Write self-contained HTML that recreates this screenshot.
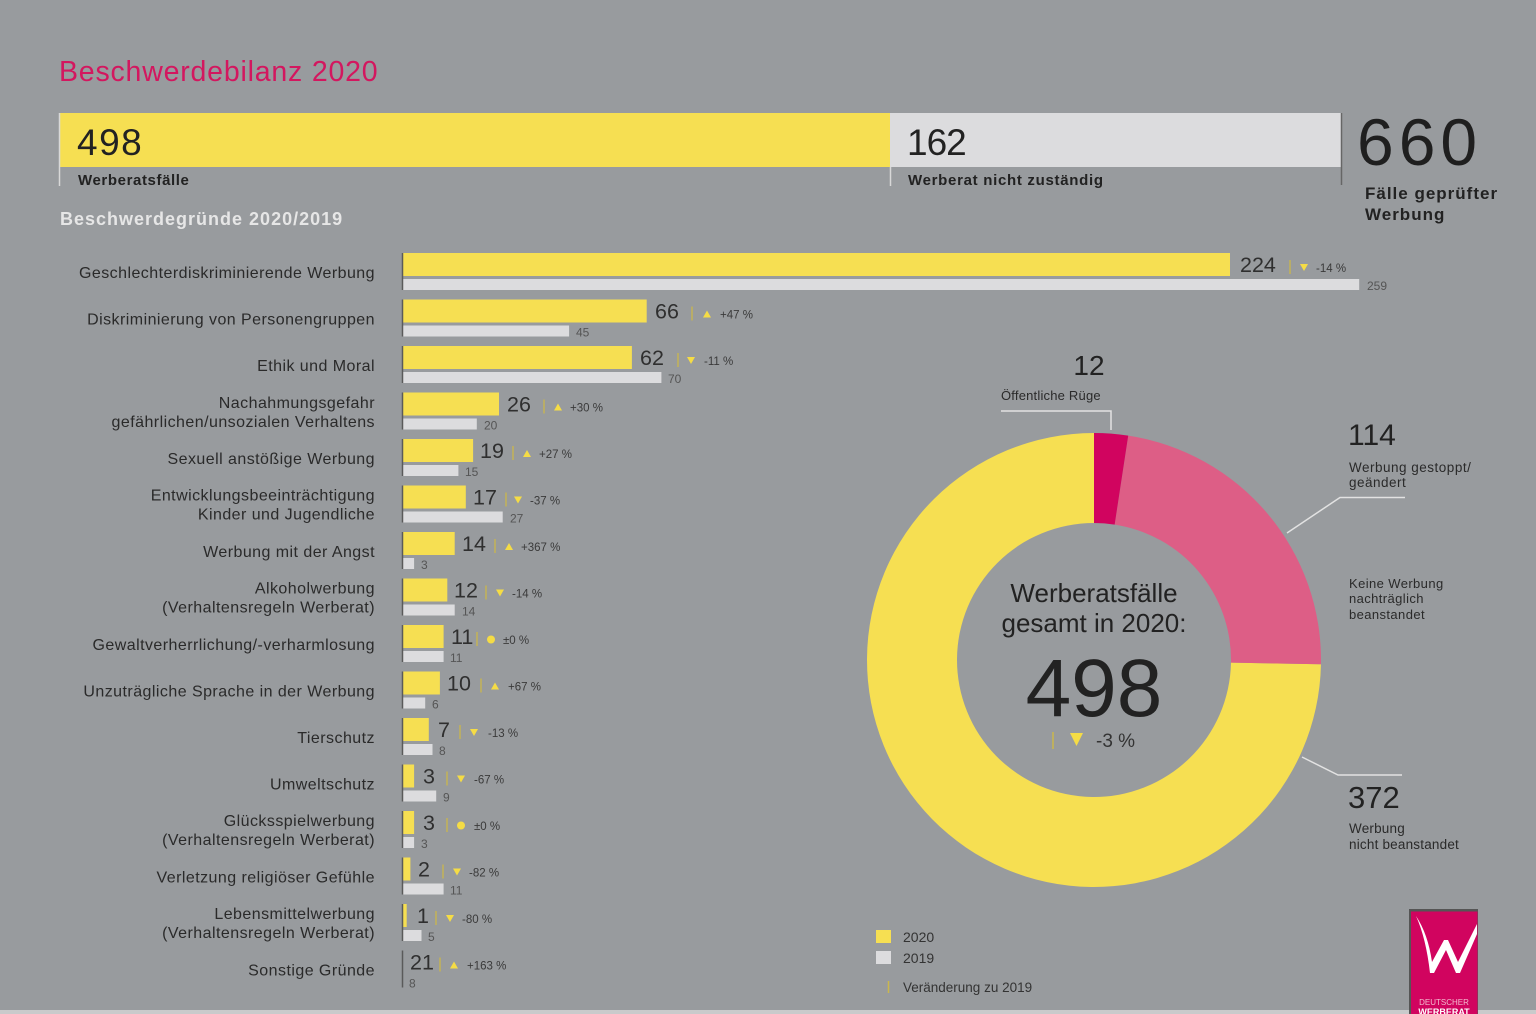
<!DOCTYPE html>
<html><head><meta charset="utf-8"><style>
html,body{margin:0;padding:0;background:#989b9e;}
svg{display:block;font-family:"Liberation Sans",Arial,sans-serif;}
</style></head><body>
<svg width="1536" height="1014" viewBox="0 0 1536 1014" xmlns="http://www.w3.org/2000/svg">
<rect x="0" y="0" width="1536" height="1014" fill="#989b9e"/>
<rect x="0" y="1010" width="1536" height="4" fill="#c9cacb"/>

<!-- Title -->
<text x="59" y="81" font-size="28.5" letter-spacing="0.8" fill="#d3175f">Beschwerdebilanz 2020</text>

<!-- Top summary bars -->
<rect x="59" y="113" width="831" height="54" fill="#f6df52"/>
<rect x="890" y="113" width="451" height="54" fill="#dcdcde"/>
<line x1="59.5" y1="113" x2="59.5" y2="186" stroke="#d8d8d8" stroke-width="1.5"/>
<line x1="890.5" y1="167" x2="890.5" y2="186" stroke="#d8d8d8" stroke-width="1.5"/>
<line x1="1341.5" y1="113" x2="1341.5" y2="185" stroke="#666" stroke-width="1.5"/>
<text x="77" y="155" font-size="37" letter-spacing="1.5" fill="#222">498</text>
<text x="78" y="185" font-size="15" font-weight="bold" letter-spacing="0.6" fill="#222">Werberatsfälle</text>
<text x="907" y="155" font-size="37" letter-spacing="-1" fill="#222">162</text>
<text x="908" y="185" font-size="15" font-weight="bold" letter-spacing="0.7" fill="#222">Werberat nicht zuständig</text>
<text x="1357" y="165" font-size="66" letter-spacing="5" fill="#1f1f1f">660</text>
<text x="1365" y="199" font-size="17" font-weight="bold" letter-spacing="1" fill="#222">Fälle geprüfter</text>
<text x="1365" y="220" font-size="17" font-weight="bold" letter-spacing="1" fill="#222">Werbung</text>

<text x="60" y="225" font-size="18" font-weight="bold" letter-spacing="1" fill="#e6e6e6">Beschwerdegründe 2020/2019</text>

<!-- Category labels -->
<g font-size="16" letter-spacing="0.45" fill="#2a2a2a" text-anchor="end">
<text x="375" y="278">Geschlechterdiskriminierende Werbung</text>
<text x="375" y="324.5">Diskriminierung von Personengruppen</text>
<text x="375" y="371">Ethik und Moral</text>
<text x="375" y="408">Nachahmungsgefahr</text>
<text x="375" y="427">gefährlichen/unsozialen Verhaltens</text>
<text x="375" y="464">Sexuell anstößige Werbung</text>
<text x="375" y="500.5">Entwicklungsbeeinträchtigung</text>
<text x="375" y="519.5">Kinder und Jugendliche</text>
<text x="375" y="557">Werbung mit der Angst</text>
<text x="375" y="593.5">Alkoholwerbung</text>
<text x="375" y="612.5">(Verhaltensregeln Werberat)</text>
<text x="375" y="650">Gewaltverherrlichung/-verharmlosung</text>
<text x="375" y="696.5">Unzuträgliche Sprache in der Werbung</text>
<text x="375" y="743">Tierschutz</text>
<text x="375" y="789.5">Umweltschutz</text>
<text x="375" y="826">Glücksspielwerbung</text>
<text x="375" y="845">(Verhaltensregeln Werberat)</text>
<text x="375" y="882.5">Verletzung religiöser Gefühle</text>
<text x="375" y="919">Lebensmittelwerbung</text>
<text x="375" y="938">(Verhaltensregeln Werberat)</text>
<text x="375" y="975.5">Sonstige Gründe</text>
</g>

<!-- Yellow bars (2020) -->
<g fill="#f6df52">
<rect x="403" y="253" width="827" height="23"/>
<rect x="403" y="299.5" width="243.7" height="23"/>
<rect x="403" y="346" width="228.9" height="23"/>
<rect x="403" y="392.5" width="96" height="23"/>
<rect x="403" y="439" width="70.1" height="23"/>
<rect x="403" y="485.5" width="62.8" height="23"/>
<rect x="403" y="532" width="51.7" height="23"/>
<rect x="403" y="578.5" width="44.3" height="23"/>
<rect x="403" y="625" width="40.6" height="23"/>
<rect x="403" y="671.5" width="36.9" height="23"/>
<rect x="403" y="718" width="25.8" height="23"/>
<rect x="403" y="764.5" width="11.1" height="23"/>
<rect x="403" y="811" width="11.1" height="23"/>
<rect x="403" y="857.5" width="7.4" height="23"/>
<rect x="403" y="904" width="3.7" height="23"/>
</g>
<!-- Grey bars (2019) -->
<g fill="#dcdcde">
<rect x="403" y="279" width="956.2" height="11"/>
<rect x="403" y="325.5" width="166.1" height="11"/>
<rect x="403" y="372" width="258.4" height="11"/>
<rect x="403" y="418.5" width="73.8" height="11"/>
<rect x="403" y="465" width="55.4" height="11"/>
<rect x="403" y="511.5" width="99.7" height="11"/>
<rect x="403" y="558" width="11.1" height="11"/>
<rect x="403" y="604.5" width="51.7" height="11"/>
<rect x="403" y="651" width="40.6" height="11"/>
<rect x="403" y="697.5" width="22.2" height="11"/>
<rect x="403" y="744" width="29.5" height="11"/>
<rect x="403" y="790.5" width="33.2" height="11"/>
<rect x="403" y="837" width="11.1" height="11"/>
<rect x="403" y="883.5" width="40.6" height="11"/>
<rect x="403" y="930" width="18.5" height="11"/>
</g>
<!-- axis lines per row -->
<g stroke="#5a5a5a" stroke-width="1.5">
<line x1="402.5" y1="253" x2="402.5" y2="290"/>
<line x1="402.5" y1="299.5" x2="402.5" y2="336.5"/>
<line x1="402.5" y1="346" x2="402.5" y2="383"/>
<line x1="402.5" y1="392.5" x2="402.5" y2="429.5"/>
<line x1="402.5" y1="439" x2="402.5" y2="476"/>
<line x1="402.5" y1="485.5" x2="402.5" y2="522.5"/>
<line x1="402.5" y1="532" x2="402.5" y2="569"/>
<line x1="402.5" y1="578.5" x2="402.5" y2="615.5"/>
<line x1="402.5" y1="625" x2="402.5" y2="662"/>
<line x1="402.5" y1="671.5" x2="402.5" y2="708.5"/>
<line x1="402.5" y1="718" x2="402.5" y2="755"/>
<line x1="402.5" y1="764.5" x2="402.5" y2="801.5"/>
<line x1="402.5" y1="811" x2="402.5" y2="848"/>
<line x1="402.5" y1="857.5" x2="402.5" y2="894.5"/>
<line x1="402.5" y1="904" x2="402.5" y2="941"/>
<line x1="402.5" y1="950.5" x2="402.5" y2="987.5"/>
</g>

<!-- 2020 values -->
<g font-size="21.5" fill="#2f2f2f">
<text x="1240" y="272">224</text>
<text x="655" y="318.5">66</text>
<text x="640" y="365">62</text>
<text x="507" y="411.5">26</text>
<text x="480" y="458">19</text>
<text x="473" y="504.5">17</text>
<text x="462" y="551">14</text>
<text x="454" y="597.5">12</text>
<text x="451" y="644">11</text>
<text x="447" y="690.5">10</text>
<text x="438" y="737">7</text>
<text x="423" y="783.5">3</text>
<text x="423" y="830">3</text>
<text x="418" y="876.5">2</text>
<text x="417" y="923">1</text>
<text x="410" y="969.5">21</text>
</g>
<!-- 2019 values -->
<g font-size="12" fill="#555">
<text x="1367" y="290">259</text>
<text x="576" y="336.5">45</text>
<text x="668" y="383">70</text>
<text x="484" y="429.5">20</text>
<text x="465" y="476">15</text>
<text x="510" y="522.5">27</text>
<text x="421" y="569">3</text>
<text x="462" y="615.5">14</text>
<text x="450" y="662">11</text>
<text x="432" y="708.5">6</text>
<text x="439" y="755">8</text>
<text x="443" y="801.5">9</text>
<text x="421" y="848">3</text>
<text x="450" y="894.5">11</text>
<text x="428" y="941">5</text>
<text x="409" y="987.5">8</text>
</g>
<!-- ticks -->
<g stroke="#cbb74c" stroke-width="1.3">
<line x1="1290" y1="260" x2="1290" y2="274"/>
<line x1="692" y1="306.5" x2="692" y2="320.5"/>
<line x1="678" y1="353" x2="678" y2="367"/>
<line x1="544" y1="399.5" x2="544" y2="413.5"/>
<line x1="513" y1="446" x2="513" y2="460"/>
<line x1="506" y1="492.5" x2="506" y2="506.5"/>
<line x1="495" y1="539" x2="495" y2="553"/>
<line x1="486" y1="585.5" x2="486" y2="599.5"/>
<line x1="477" y1="632" x2="477" y2="646"/>
<line x1="481" y1="678.5" x2="481" y2="692.5"/>
<line x1="460" y1="725" x2="460" y2="739"/>
<line x1="447" y1="771.5" x2="447" y2="785.5"/>
<line x1="447" y1="818" x2="447" y2="832"/>
<line x1="443" y1="864.5" x2="443" y2="878.5"/>
<line x1="436" y1="911" x2="436" y2="925"/>
<line x1="440" y1="957.5" x2="440" y2="971.5"/>
</g>
<!-- triangles / dots -->
<g fill="#f5dc45">
<polygon points="1300,264 1308,264 1304,271"/>
<polygon points="703,317.5 711,317.5 707,310.5"/>
<polygon points="687,357 695,357 691,364"/>
<polygon points="554,410.5 562,410.5 558,403.5"/>
<polygon points="523,457 531,457 527,450"/>
<polygon points="514,496.5 522,496.5 518,503.5"/>
<polygon points="505,550 513,550 509,543"/>
<polygon points="496,589.5 504,589.5 500,596.5"/>
<circle cx="491" cy="639.5" r="4"/>
<polygon points="491,689.5 499,689.5 495,682.5"/>
<polygon points="470,729 478,729 474,736"/>
<polygon points="457,775.5 465,775.5 461,782.5"/>
<circle cx="461" cy="825.5" r="4"/>
<polygon points="453,868.5 461,868.5 457,875.5"/>
<polygon points="446,915 454,915 450,922"/>
<polygon points="450,968.5 458,968.5 454,961.5"/>
</g>
<!-- percent changes -->
<g font-size="11.5" fill="#3a3a3a">
<text x="1316" y="272">-14 %</text>
<text x="720" y="318.5">+47 %</text>
<text x="704" y="365">-11 %</text>
<text x="570" y="411.5">+30 %</text>
<text x="539" y="458">+27 %</text>
<text x="530" y="504.5">-37 %</text>
<text x="521" y="551">+367 %</text>
<text x="512" y="597.5">-14 %</text>
<text x="503" y="644">±0 %</text>
<text x="508" y="690.5">+67 %</text>
<text x="488" y="737">-13 %</text>
<text x="474" y="783.5">-67 %</text>
<text x="474" y="830">±0 %</text>
<text x="469" y="876.5">-82 %</text>
<text x="462" y="923">-80 %</text>
<text x="467" y="969.5">+163 %</text>
</g>

<!-- Donut -->
<path d="M1320.96,664.28 A227,227 0 1 1 1094,433 L1094,523 A137,137 0 1 0 1230.98,662.58 Z" fill="#f6df52"/>
<path d="M1128.23,435.60 A227,227 0 0 1 1320.96,664.28 L1230.98,662.58 A137,137 0 0 0 1114.66,524.57 Z" fill="#dd5e86"/>
<path d="M1094,433 A227,227 0 0 1 1128.23,435.60 L1114.66,524.57 A137,137 0 0 0 1094,523 Z" fill="#d1045f"/>

<!-- Donut center -->
<g text-anchor="middle" fill="#222">
<text x="1094" y="602" font-size="26">Werberatsfälle</text>
<text x="1094" y="632" font-size="26">gesamt in 2020:</text>
<text x="1094" y="716" font-size="82">498</text>
</g>
<line x1="1053" y1="732" x2="1053" y2="749" stroke="#cbb74c" stroke-width="1.5"/>
<polygon points="1070,733 1083,733 1076.5,746" fill="#f5dc45"/>
<text x="1096" y="747" font-size="19" fill="#333">-3 %</text>

<!-- Donut annotations -->
<text x="1089" y="375" font-size="28" fill="#222" text-anchor="middle">12</text>
<text x="1001" y="400" font-size="13" letter-spacing="0.2" fill="#2a2a2a">Öffentliche Rüge</text>
<polyline points="1001,411 1111,411 1111,430" fill="none" stroke="#e2e2e2" stroke-width="1.5"/>

<text x="1348" y="445" font-size="30" fill="#222">114</text>
<text x="1349" y="472" font-size="13.5" letter-spacing="0.5" fill="#2a2a2a">Werbung gestoppt/</text>
<text x="1349" y="487" font-size="13.5" letter-spacing="0.5" fill="#2a2a2a">geändert</text>
<polyline points="1405,497.5 1340,497.5 1287,533" fill="none" stroke="#e2e2e2" stroke-width="1.5"/>

<text x="1349" y="588" font-size="13" letter-spacing="0.4" fill="#2a2a2a">Keine Werbung</text>
<text x="1349" y="603" font-size="13" letter-spacing="0.4" fill="#2a2a2a">nachträglich</text>
<text x="1349" y="619" font-size="13" letter-spacing="0.4" fill="#2a2a2a">beanstandet</text>

<text x="1348" y="808" font-size="31" fill="#222">372</text>
<text x="1349" y="833" font-size="13.5" letter-spacing="0.2" fill="#2a2a2a">Werbung</text>
<text x="1349" y="849" font-size="13.5" letter-spacing="0.2" fill="#2a2a2a">nicht beanstandet</text>
<polyline points="1302,757 1338,775 1402,775" fill="none" stroke="#e2e2e2" stroke-width="1.5"/>

<!-- Legend -->
<rect x="876" y="930" width="15" height="13" fill="#f6df52"/>
<rect x="876" y="951" width="15" height="13" fill="#dcdcde"/>
<text x="903" y="942" font-size="14" fill="#333">2020</text>
<text x="903" y="963" font-size="14" fill="#333">2019</text>
<line x1="888.5" y1="981" x2="888.5" y2="993" stroke="#cbb74c" stroke-width="1.5"/>
<text x="903" y="992" font-size="13.5" fill="#333">Veränderung zu 2019</text>

<!-- Logo -->
<rect x="1409" y="909" width="69" height="105" fill="#555"/>
<rect x="1411" y="911.5" width="66.5" height="102.5" fill="#d1045f"/>
<path d="M1416,916 Q1426,938 1430,973 L1434,973 L1446,950 L1456,973 L1460,973 L1477,934 L1477,924 L1458,962 L1448,940 L1444,940 L1432,962 Q1428,934 1416,916 Z" fill="#ffffff"/>
<text x="1444" y="1005" font-size="8" fill="#f3bcd0" text-anchor="middle">DEUTSCHER</text>
<text x="1444" y="1015" font-size="9" font-weight="bold" fill="#ffffff" text-anchor="middle">WERBERAT</text>
</svg>
</body></html>
